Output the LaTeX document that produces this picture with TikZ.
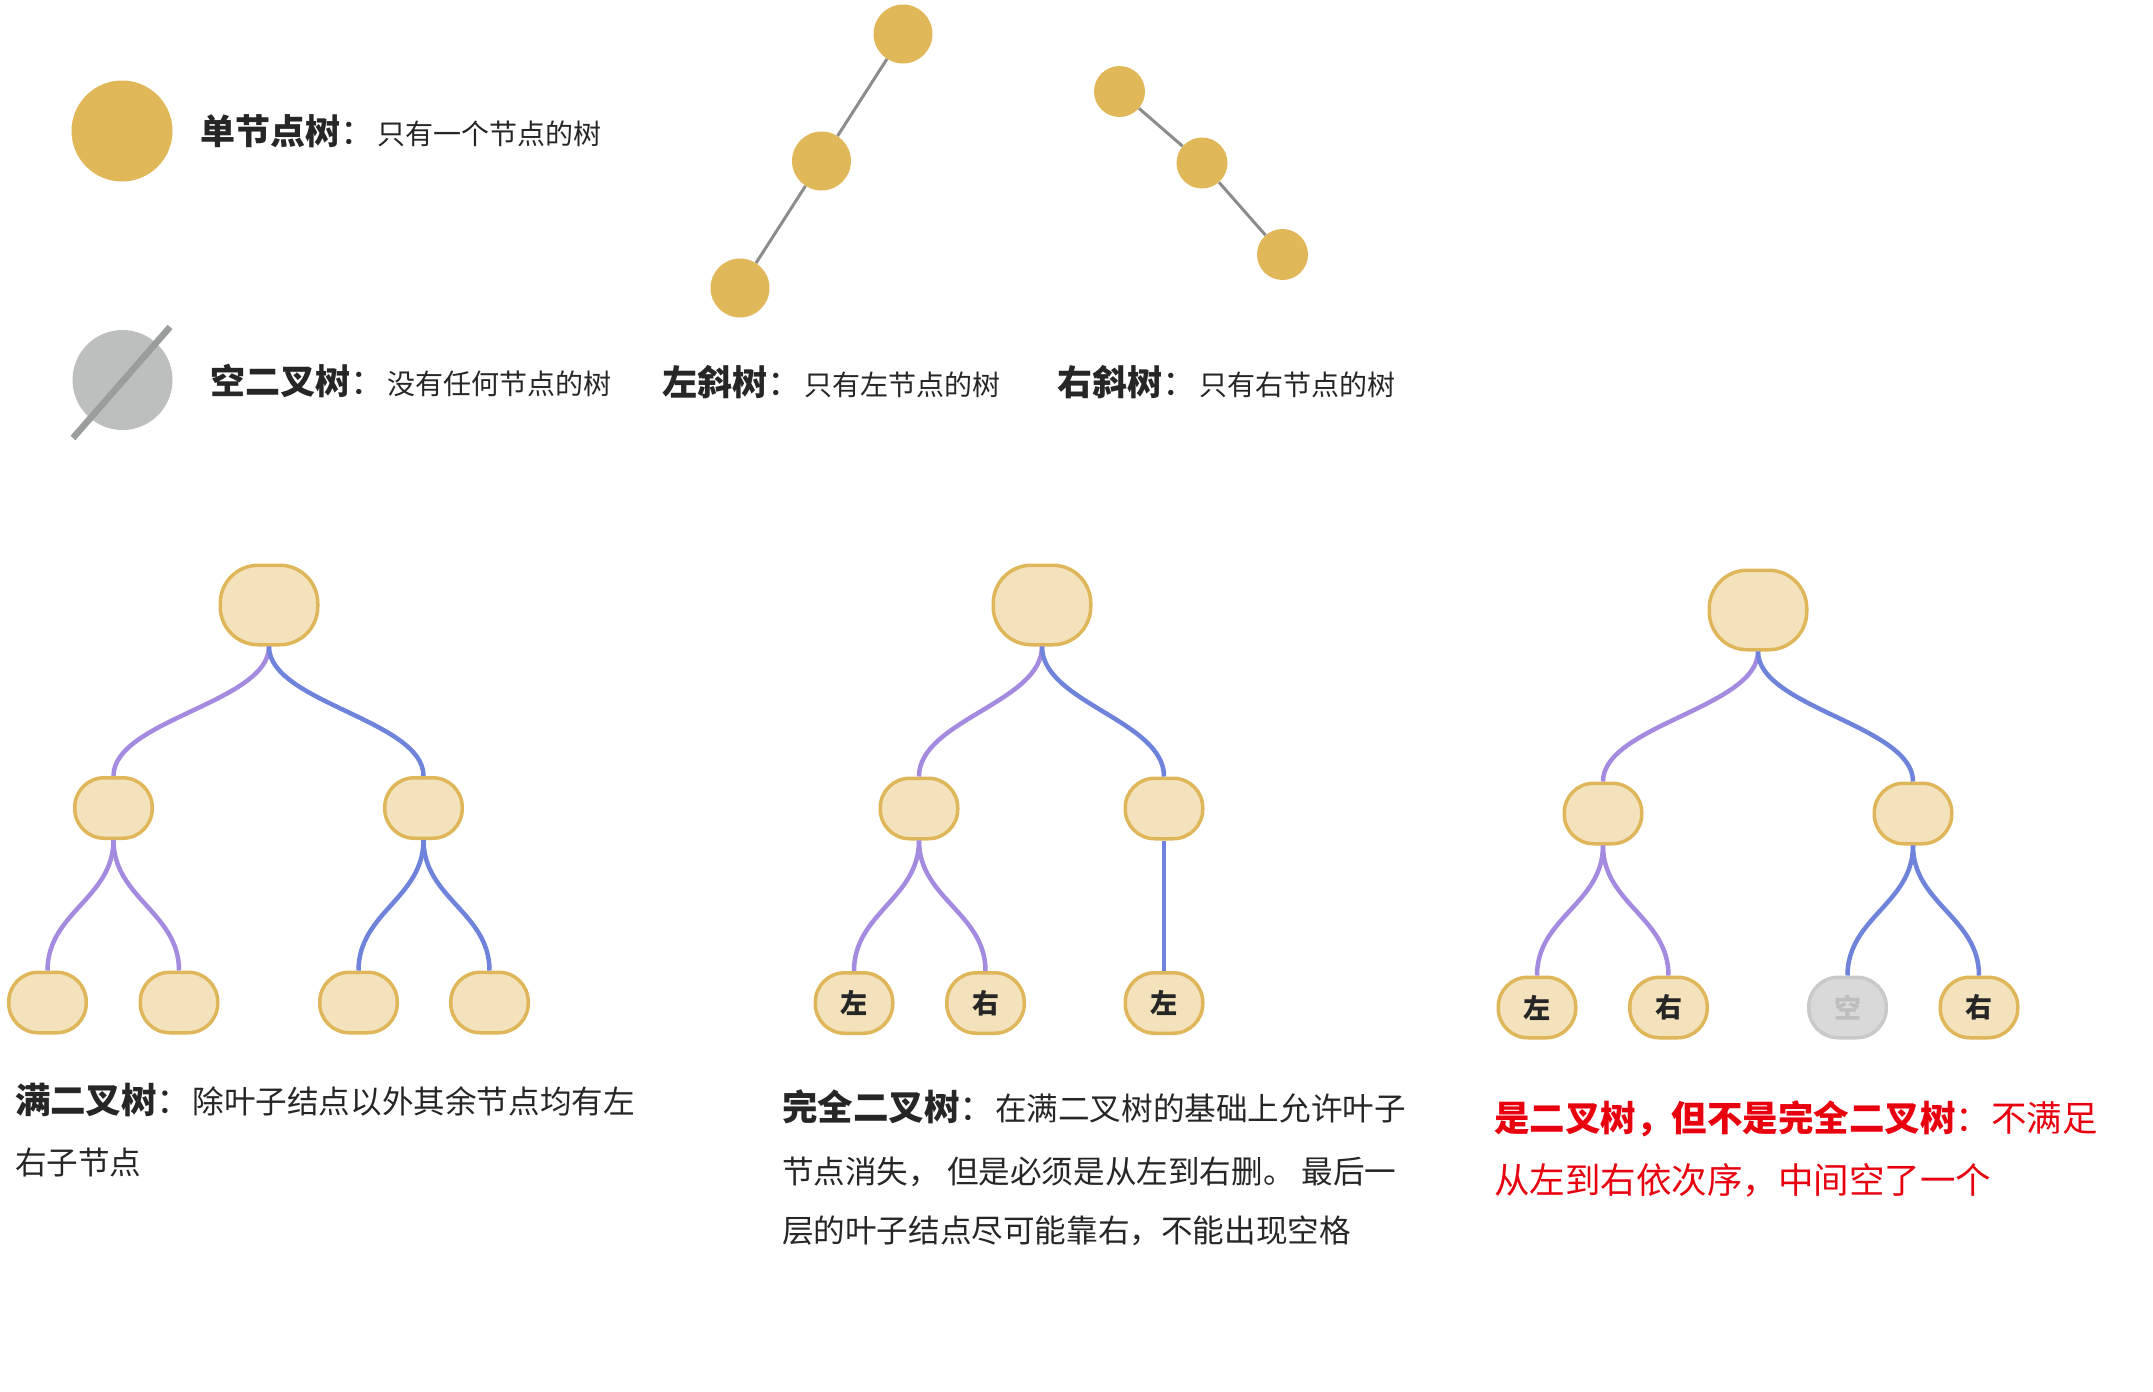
\documentclass[tikz,border=0pt]{standalone}
\usepackage{fontspec}
\setmainfont{Noto Sans CJK SC}
\definecolor{nodefill}{HTML}{F3E2BB}
\definecolor{nodeborder}{HTML}{DFB65A}
\definecolor{edgeL}{HTML}{A58BE0}
\definecolor{edgeR}{HTML}{6F83DB}
\definecolor{golddot}{HTML}{E0B85A}
\definecolor{graycirc}{HTML}{BDBFBE}
\definecolor{slashgray}{HTML}{9A9D9C}
\definecolor{skewline}{HTML}{8C8C8C}
\definecolor{txtdark}{HTML}{262626}
\definecolor{warnred}{HTML}{E8000F}
\definecolor{emptyfill}{HTML}{D9D9D9}
\definecolor{emptyborder}{HTML}{C9C9C9}
\definecolor{emptytext}{HTML}{BDBDBD}
\newcommand\topbold{\fontsize{35}{40}\selectfont\bfseries}
\newcommand\topcolon{\fontsize{35}{40}\selectfont\mdseries ：\kern2pt}
\newcommand\topnorm{\fontsize{28}{33}\selectfont\mdseries}
\newcommand\botbold{\fontsize{35.5}{40}\selectfont\bfseries}
\newcommand\botcolon{\fontsize{35.5}{40}\selectfont\mdseries ：}
\newcommand\botnorm{\fontsize{31.6}{38}\selectfont\mdseries}
\newcommand\rednorm{\fontsize{35.5}{40}\selectfont\mdseries}
\newcommand\lblfont{\fontsize{27}{32}\selectfont\bfseries}
\begin{document}
\begin{tikzpicture}[x=1pt,y=-1pt,
  txt/.style={inner sep=0pt, outer sep=0pt, anchor=base west, text=txtdark},
  redtxt/.style={txt, text=warnred},
  gdot/.style={circle, fill=golddot, inner sep=0pt},
  skl/.style={draw=skewline, line width=3pt},
  treenode/.style={draw=nodeborder, fill=nodefill, line width=3.5pt, inner sep=0pt,
    minimum width=77.5pt, minimum height=60.5pt, rounded corners=29.5pt,
    font=\lblfont, text=txtdark},
  rootnode/.style={treenode, minimum width=97.5pt, minimum height=79.5pt, rounded corners=38pt},
  emptynode/.style={treenode, draw=emptyborder, fill=emptyfill, text=emptytext},
  pe/.style={draw=edgeL, line width=4.5pt},
  be/.style={draw=edgeR, line width=4.5pt}]
\useasboundingbox (0,0) rectangle (2153,1392);

% ---- single node tree
\node[gdot, minimum size=101pt] (single) at (122,131) {};
\node[txt] (t1) at (200,144) {{\topbold 单节点树}{\topcolon}{\topnorm 只有一个节点的树}};

% ---- empty tree
\node[circle, fill=graycirc, minimum size=100pt, inner sep=0pt] (empty) at (122.5,380) {};
\coordinate (s1) at (73,438);
\coordinate (s2) at (170,327);
\draw[draw=slashgray, line width=6.5pt] (s1) -- (s2);
\node[txt] (t2) at (210,394) {{\topbold 空二叉树}{\topcolon}{\topnorm 没有任何节点的树}};

% ---- left skewed tree
\node[gdot, minimum size=59pt] (l1) at (903,34) {};
\node[gdot, minimum size=59pt] (l2) at (821.5,161) {};
\node[gdot, minimum size=59pt] (l3) at (740,288) {};
\draw[skl] (l1) -- (l2);
\draw[skl] (l2) -- (l3);
\node[txt] (t3) at (662,395.5) {{\topbold 左斜树}{\topcolon}{\topnorm 只有左节点的树}};

% ---- right skewed tree
\node[gdot, minimum size=51pt] (r1) at (1119.5,91.5) {};
\node[gdot, minimum size=51pt] (r2) at (1202,163) {};
\node[gdot, minimum size=51pt] (r3) at (1282.5,254.5) {};
\draw[skl] (r1) -- (r2);
\draw[skl] (r2) -- (r3);
\node[txt] (t4) at (1057,395.5) {{\topbold 右斜树}{\topcolon}{\topnorm 只有右节点的树}};

% ---- full binary tree
\node[rootnode] (fR) at (269,605) {};
\node[treenode] (fA) at (113.5,808) {};
\node[treenode] (fB) at (423.5,808) {};
\node[treenode] (fA1) at (47.5,1002.5) {};
\node[treenode] (fA2) at (179,1002.5) {};
\node[treenode] (fB1) at (358.5,1002.5) {};
\node[treenode] (fB2) at (489.5,1002.5) {};
\draw[pe] (fR.south) .. controls +(0,56) and +(0,-56) .. (fA.north);
\draw[be] (fR.south) .. controls +(0,56) and +(0,-56) .. (fB.north);
\draw[pe] (fA.south) .. controls +(0,58) and +(0,-58) .. (fA1.north);
\draw[pe] (fA.south) .. controls +(0,58) and +(0,-58) .. (fA2.north);
\draw[be] (fB.south) .. controls +(0,58) and +(0,-58) .. (fB1.north);
\draw[be] (fB.south) .. controls +(0,58) and +(0,-58) .. (fB2.north);
\node[txt] (ft1) at (15,1113.5) {{\botbold 满二叉树}{\botcolon}{\botnorm 除叶子结点以外其余节点均有左}};
\node[txt] (ft2) at (15,1174) {\botnorm 右子节点};

% ---- complete binary tree
\node[rootnode] (cR) at (1042,605) {};
\node[treenode] (cA) at (919,808.5) {};
\node[treenode] (cB) at (1164,808.5) {};
\node[treenode] (cA1) at (854,1003) {左};
\node[treenode] (cA2) at (985.5,1003) {右};
\node[treenode] (cB1) at (1164,1003) {左};
\draw[pe] (cR.south) .. controls +(0,56) and +(0,-56) .. (cA.north);
\draw[be] (cR.south) .. controls +(0,56) and +(0,-56) .. (cB.north);
\draw[pe] (cA.south) .. controls +(0,58) and +(0,-58) .. (cA1.north);
\draw[pe] (cA.south) .. controls +(0,58) and +(0,-58) .. (cA2.north);
\draw[be] (cB.south) -- (cB1.north);
\node[txt] (ct1) at (782,1120.5) {{\botbold 完全二叉树}{\botcolon}{\botnorm 在满二叉树的基础上允许叶子}};
\node[txt] (ct2) at (782,1183) {\botnorm 节点消失， 但是必须是从左到右删。 最后一};
\node[txt] (ct3) at (782,1242) {\botnorm 层的叶子结点尽可能靠右，不能出现空格};

% ---- not complete binary tree
\node[rootnode] (nR) at (1758,610) {};
\node[treenode] (nA) at (1603,813.5) {};
\node[treenode] (nB) at (1913,813.5) {};
\node[treenode] (nA1) at (1537,1007.5) {左};
\node[treenode] (nA2) at (1668.5,1007.5) {右};
\node[emptynode] (nB1) at (1847.5,1007.5) {空};
\node[treenode] (nB2) at (1979,1007.5) {右};
\draw[pe] (nR.south) .. controls +(0,56) and +(0,-56) .. (nA.north);
\draw[be] (nR.south) .. controls +(0,56) and +(0,-56) .. (nB.north);
\draw[pe] (nA.south) .. controls +(0,58) and +(0,-58) .. (nA1.north);
\draw[pe] (nA.south) .. controls +(0,58) and +(0,-58) .. (nA2.north);
\draw[be] (nB.south) .. controls +(0,58) and +(0,-58) .. (nB1.north);
\draw[be] (nB.south) .. controls +(0,58) and +(0,-58) .. (nB2.north);
\node[redtxt] (nt1) at (1494,1131) {{\botbold 是二叉树，但不是完全二叉树}{\botcolon}{\rednorm 不满足}};
\node[redtxt] (nt2) at (1494,1193) {\rednorm 从左到右依次序，中间空了一个};
\end{tikzpicture}
\end{document}
